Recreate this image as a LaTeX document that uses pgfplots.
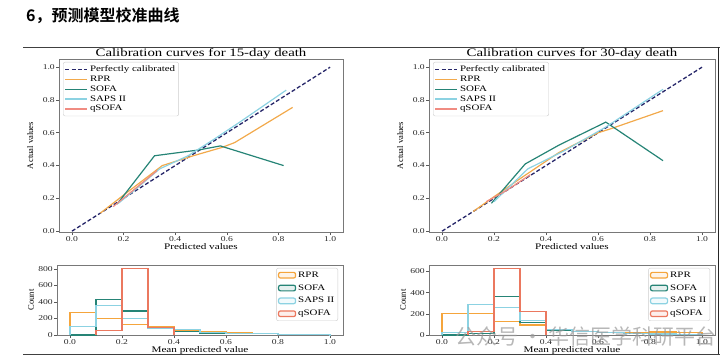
\documentclass[border=0pt]{standalone}
\usepackage{pgfplots}
\pgfplotsset{compat=1.18}
\usepackage{fontspec}
\setmainfont{Liberation Serif}
\newfontfamily\cf[FakeStretch=1.3]{Liberation Serif}
\newfontfamily\cfp{Liberation Serif}
\newfontfamily\cjk{Noto Sans CJK SC}[BoldFont={Noto Sans CJK SC Bold}]
\definecolor{perf}{RGB}{38,38,105}
\definecolor{rpr}{RGB}{242,169,75}
\definecolor{sofa}{RGB}{38,132,118}
\definecolor{saps}{RGB}{140,210,226}
\definecolor{qsofa}{RGB}{240,140,130}
\definecolor{rprh}{RGB}{245,165,60}
\definecolor{qsofah}{RGB}{235,120,95}
\definecolor{frame}{RGB}{120,120,120}
\pgfplotsset{
  base/.style={
    scale only axis,
    axis line style={draw=frame, line width=0.8pt},
    tick style={draw=black!65, line width=0.6pt},
    tick align=outside, tick pos=left, major tick length=3pt,
    /pgf/number format/assume math mode=true,
    tick label style={font=\cf\fontsize{7.4}{8}\selectfont, text=black!85},
    label style={font=\cf\fontsize{8.6}{9}\selectfont},
    ylabel style={font=\cfp\fontsize{8.6}{9}\selectfont},
    xmin=-0.05, xmax=1.05,
    xtick={0,0.2,0.4,0.6,0.8,1},
    xticklabel style={/pgf/number format/.cd, fixed, fixed zerofill, precision=1},
    every tick label/.append style={inner sep=1pt},
  },
  calib/.style={
    base, width=284pt, height=173pt,
    ymin=-0.005, ymax=1.05,
    ytick={0,0.2,0.4,0.6,0.8,1},
    yticklabel style={/pgf/number format/.cd, fixed, fixed zerofill, precision=1},
    title style={font=\cf\fontsize{11.4}{12}\selectfont, yshift=-9pt},
    xlabel={Predicted values}, ylabel={Actual values},
    xlabel style={yshift=2.5pt}, ylabel style={yshift=5pt},
    legend cell align=left,
    legend style={font=\cf\fontsize{8.4}{9.5}\selectfont, draw=black!20, rounded corners=2pt,
      at={(0,1)}, anchor=north west, xshift=4pt, yshift=-3pt, row sep=-1.2pt, inner sep=1.5pt},
    legend image code/.code={\draw[#1, line width=1.3pt] (0pt,0pt) -- (22pt,0pt);},
  },
  hist/.style={
    base, width=286pt, height=70pt, ymin=0,
    xlabel={Mean predicted value}, ylabel={Count},
    xlabel style={yshift=2.5pt}, ylabel style={yshift=0pt},
    legend cell align=left,
    legend style={font=\cf\fontsize{8.4}{9.5}\selectfont, draw=black!20, rounded corners=2pt,
      at={(1,1)}, anchor=north east, xshift=-5pt, yshift=-3pt, row sep=1.8pt, inner sep=1.5pt},
    legend image code/.code={\draw[#1] (0pt,-2.5pt) rectangle (22pt,3pt);},
  },
  cl/.style={line width=1.2pt},
  hl/.style={const plot, line width=1.2pt, forget plot},
}
\begin{document}
\begin{tikzpicture}
\path (0pt,0pt) rectangle (727pt,-363pt);
\node[anchor=west, inner sep=0pt] at (26pt,-16pt) {\cjk\bfseries\fontsize{16}{18}\selectfont 6，预测模型校准曲线};
\draw[black!75, line width=0.8pt] (23pt,-47pt) -- (720pt,-47pt);
\draw[black!85, line width=1.5pt] (718.5pt,-47pt) -- (718.5pt,-354pt);
\draw[black!75, line width=0.8pt] (23pt,-354pt) -- (720pt,-354pt);

% ---- 15-day calibration
\begin{axis}[calib, at={(59pt,-232pt)}, anchor=south west,
  title={Calibration curves for 15-day death}]
\addplot[perf, line width=1.3pt, dash pattern=on 4pt off 2.2pt] coordinates {(0,0) (1,1)};
\addlegendentry{Perfectly calibrated}
\addplot[rpr, cl] coordinates {(0.11,0.11) (0.2,0.22) (0.35,0.40) (0.47,0.46) (0.58,0.51) (0.63,0.54) (0.855,0.755)};
\addlegendentry{RPR}
\addplot[sofa, cl] coordinates {(0.175,0.165) (0.32,0.46) (0.49,0.495) (0.575,0.52) (0.82,0.40)};
\addlegendentry{SOFA}
\addplot[saps, cl] coordinates {(0.18,0.17) (0.25,0.26) (0.34,0.38) (0.45,0.46) (0.55,0.56) (0.65,0.665) (0.83,0.86)};
\addlegendentry{SAPS II}
\addplot[qsofa, cl] coordinates {(0.16,0.15) (0.23,0.24) (0.33,0.37)};
\addlegendentry{qSOFA}
\end{axis}

% ---- 30-day calibration
\begin{axis}[calib, at={(429pt,-232pt)}, anchor=south west, width=286pt,
  title={Calibration curves for 30-day death}]
\addplot[perf, line width=1.3pt, dash pattern=on 4pt off 2.2pt] coordinates {(0,0) (1,1)};
\addlegendentry{Perfectly calibrated}
\addplot[rpr, cl] coordinates {(0.12,0.12) (0.2,0.21) (0.3,0.32) (0.45,0.48) (0.6,0.6) (0.65,0.625) (0.85,0.735)};
\addlegendentry{RPR}
\addplot[sofa, cl] coordinates {(0.19,0.17) (0.32,0.41) (0.45,0.525) (0.63,0.665) (0.85,0.43)};
\addlegendentry{SOFA}
\addplot[saps, cl] coordinates {(0.2,0.18) (0.33,0.38) (0.47,0.49) (0.63,0.635) (0.85,0.865)};
\addlegendentry{SAPS II}
\addplot[qsofa, cl] coordinates {(0.17,0.18) (0.25,0.25) (0.34,0.345)};
\addlegendentry{qSOFA}
\end{axis}

% ---- 15-day histogram
\begin{axis}[hist, at={(57pt,-335pt)}, anchor=south west, ymax=848,
  ytick={0,200,400,600,800}]
\addlegendimage{area legend, draw=rprh, fill=rprh!12, line width=1.2pt}
\addlegendentry{RPR}
\addlegendimage{area legend, draw=sofa, fill=sofa!12, line width=1.2pt}
\addlegendentry{SOFA}
\addlegendimage{area legend, draw=saps, fill=saps!12, line width=1.2pt}
\addlegendentry{SAPS II}
\addlegendimage{area legend, draw=qsofah, fill=qsofah!12, line width=1.2pt}
\addlegendentry{qSOFA}
\addplot[hl, rprh] coordinates {(0,0) (0,270) (0.1,198) (0.2,125) (0.3,100) (0.4,50) (0.5,45) (0.6,35) (0.7,20) (0.8,10) (0.9,5) (1,0)};
\addplot[hl, sofa] coordinates {(0,0) (0.1,428) (0.2,290) (0.3,80) (0.4,40) (0.5,20) (0.6,15) (0.7,20) (0.8,10) (0.9,3) (1,0)};
\addplot[hl, saps] coordinates {(0,0) (0,105) (0.1,360) (0.2,198) (0.3,85) (0.4,62) (0.5,35) (0.6,20) (0.7,15) (0.8,10) (0.9,5) (1,0)};
\addplot[hl, qsofah] coordinates {(0.1,0) (0.1,52) (0.2,805) (0.3,95) (0.4,0)};
\end{axis}

% ---- 30-day histogram
\begin{axis}[hist, at={(429pt,-335pt)}, anchor=south west, ymax=662,
  ytick={0,200,400,600}]
\addlegendimage{area legend, draw=rprh, fill=rprh!12, line width=1.2pt}
\addlegendentry{RPR}
\addlegendimage{area legend, draw=sofa, fill=sofa!12, line width=1.2pt}
\addlegendentry{SOFA}
\addlegendimage{area legend, draw=saps, fill=saps!12, line width=1.2pt}
\addlegendentry{SAPS II}
\addlegendimage{area legend, draw=qsofah, fill=qsofah!12, line width=1.2pt}
\addlegendentry{qSOFA}
\addplot[hl, rprh] coordinates {(0,0) (0,200) (0.1,200) (0.2,127) (0.3,95) (0.4,45) (0.5,35) (0.6,25) (0.7,20) (0.8,28) (0.9,25) (1,0)};
\addplot[hl, sofa] coordinates {(0,0) (0.1,15) (0.2,362) (0.3,120) (0.4,40) (0.5,30) (0.6,20) (0.7,15) (0.8,10) (0.9,5) (1,0)};
\addplot[hl, saps] coordinates {(0,0) (0,25) (0.1,289) (0.2,263) (0.3,135) (0.4,50) (0.5,30) (0.6,20) (0.7,15) (0.8,10) (0.9,5) (1,0)};
\addplot[hl, qsofah] coordinates {(0.1,0) (0.1,30) (0.2,630) (0.3,219) (0.4,0)};
\end{axis}

\node[anchor=west, inner sep=0pt, text=black!40, opacity=0.7] at (455pt,-336pt)
  {\cjk\fontsize{21}{22}\selectfont 公众号 · 华信医学科研平台};
\end{tikzpicture}
\end{document}
